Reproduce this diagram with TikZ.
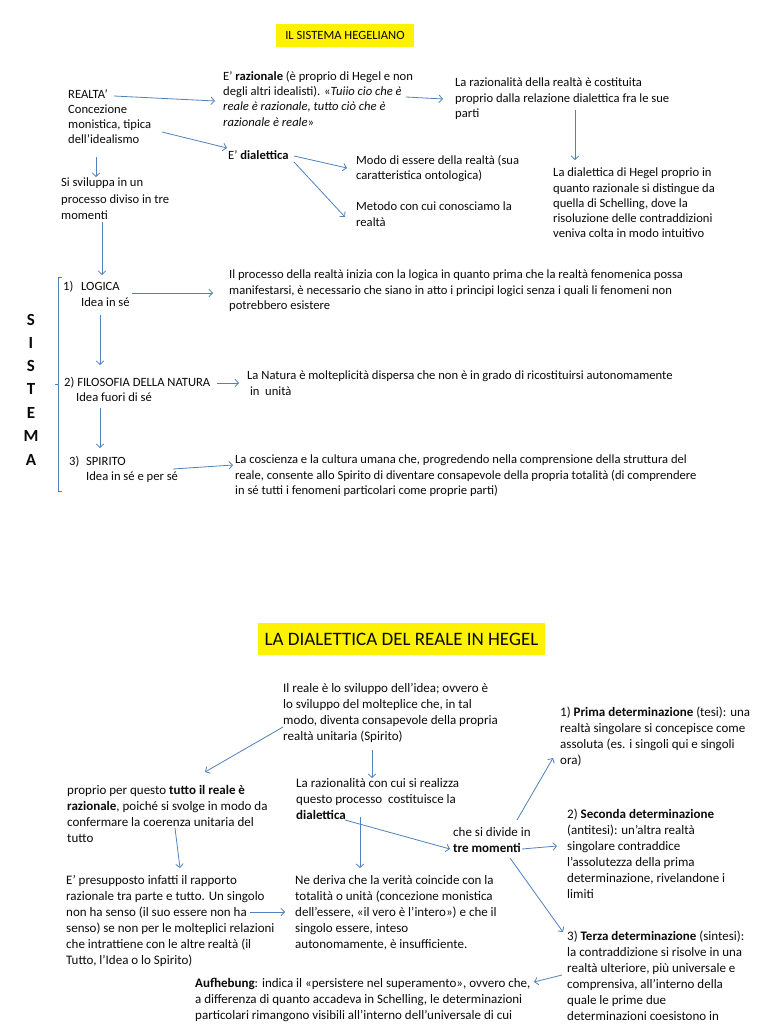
\documentclass[tikz,border=0pt]{standalone}
\usepackage{fontspec}
\setmainfont{Carlito}
\usetikzlibrary{arrows.meta}
\definecolor{arrblue}{RGB}{79,129,189}
\definecolor{txt}{RGB}{10,10,10}
\newcommand\fT{\fontsize{12.6}{15.2}\selectfont}
\newcommand\fB{\fontsize{13}{16}\selectfont}
\tikzset{
  tT/.style={anchor=north west, inner sep=0pt, align=left, font=\fT, text=txt, execute at begin node=\strut},
  tB/.style={anchor=north west, inner sep=0pt, align=left, font=\fB, text=txt, execute at begin node=\strut},
  arr/.style={draw=arrblue, line width=0.8pt, -{Straight Barb[length=3.5pt,width=7.5pt]}},
  ttl/.style={fill=yellow, inner sep=0pt, text=txt},
  letter/.style={font=\fontsize{17}{20}\selectfont\bfseries, text=txt, inner sep=0pt}
}
\begin{document}
\begin{tikzpicture}[x=1pt,y=-1pt]
\useasboundingbox[fill=white] (0,0) rectangle (768,1024);

% ---------- top: IL SISTEMA HEGELIANO ----------
\node[ttl, minimum width=138pt, minimum height=23pt, font=\fT] (title1) at (345,35.5) {IL SISTEMA HEGELIANO};

\node[tT] (realta) at (68,89) {REALTA’\\Concezione\\monistica, tipica\\dell’idealismo};
\node[tT] (razionale) at (223,71) {E’ \textbf{razionale} (è proprio di Hegel e non\\degli altri idealisti). «\textit{Tuiio cio che è}\\\textit{reale è razionale, tutto ciò che è}\\\textit{razionale è reale}»};
\node[tT] (razrel) at (455,78) {La razionalità della realtà è costituita\\proprio dalla relazione dialettica fra le sue\\parti};
\node[tT] (dialettica) at (228,149) {E’ \textbf{dialettica}};
\node[tT] (modo) at (356,155) {Modo di essere della realtà (sua\\caratteristica ontologica)};
\node[tT] (metodo) at (356,202) {Metodo con cui conosciamo la\\realtà};
\node[tT] (hegel) at (553,168) {La dialettica di Hegel proprio in\\quanto razionale si distingue da\\quella di Schelling, dove la\\risoluzione delle contraddizioni\\veniva colta in modo intuitivo};
\node[tT, font=\fontsize{12.6}{16.5}\selectfont] (sviluppa) at (61,178) {Si sviluppa in un\\processo diviso in tre\\momenti};

\coordinate (a1s) at (114,96);  \coordinate (a1e) at (215,101);
\coordinate (a2s) at (406,97);  \coordinate (a2e) at (443,99);
\coordinate (a3s) at (162,132); \coordinate (a3e) at (227,148);
\coordinate (a4s) at (294,156); \coordinate (a4e) at (347,168);
\coordinate (a5s) at (294,162); \coordinate (a5e) at (345,217);
\coordinate (a6s) at (575,110); \coordinate (a6e) at (575,160);
\coordinate (a7s) at (96,157);  \coordinate (a7e) at (96,177);
\coordinate (a8s) at (102,222); \coordinate (a8e) at (102,275);
\draw[arr] (a1s) -- (a1e);
\draw[arr] (a2s) -- (a2e);
\draw[arr] (a3s) -- (a3e);
\draw[arr] (a4s) -- (a4e);
\draw[arr] (a5s) -- (a5e);
\draw[arr] (a6s) -- (a6e);
\draw[arr] (a7s) -- (a7e);
\draw[arr] (a8s) -- (a8e);

% ---------- SISTEMA ----------
\foreach \l/\yy [count=\i] in {S/320,I/343,S/366,T/389,E/413,M/436,A/460}
  \node[letter] (sis\i) at (31,\yy) {\l};
\draw[arrblue, line width=0.8pt] (62,277) -- (58,277) -- (58,491) -- (62,491);
\draw[arrblue, line width=0.8pt] (55,384) -- (58,384);

\node[tT] (logica) at (63,280) {\makebox[18pt][l]{1)}LOGICA};
\node[tT] (logica2) at (81,296) {Idea in sé};
\node[tT] (filosofia) at (64,376) {2) FILOSOFIA DELLA NATURA};
\node[tT] (filosofia2) at (76,391) {Idea fuori di sé};
\node[tT] (spirito) at (69,455) {\makebox[17pt][l]{3)}SPIRITO};
\node[tT] (spirito2) at (86,470) {Idea in sé e per sé};

\node[tT] (processo) at (229,270) {Il processo della realtà inizia con la logica in quanto prima che la realtà fenomenica possa\\manifestarsi, è necessario che siano in atto i principi logici senza i quali li fenomeni non\\potrebbero esistere};
\node[tT] (natura) at (247,371) {La Natura è molteplicità dispersa che non è in grado di ricostituirsi autonomamente\\\ in\ \ unità};
\node[tT] (coscienza) at (235,455) {La coscienza e la cultura umana che, progredendo nella comprensione della struttura del\\reale, consente allo Spirito di diventare consapevole della propria totalità (di comprendere\\in sé tutti i fenomeni particolari come proprie parti)};

\coordinate (a9s) at (132,293);  \coordinate (a9e) at (213,293);
\coordinate (a10s) at (100,315); \coordinate (a10e) at (100,365);
\coordinate (a11s) at (217,383); \coordinate (a11e) at (239,383);
\coordinate (a12s) at (100,408); \coordinate (a12e) at (100,448);
\coordinate (a13s) at (173,469); \coordinate (a13e) at (233,465);
\draw[arr] (a9s) -- (a9e);
\draw[arr] (a10s) -- (a10e);
\draw[arr] (a11s) -- (a11e);
\draw[arr] (a12s) -- (a12e);
\draw[arr] (a13s) -- (a13e);

% ---------- bottom: LA DIALETTICA DEL REALE IN HEGEL ----------
\node[ttl, minimum width=287pt, minimum height=32pt, font=\fontsize{19}{22}\selectfont] (title2) at (401.5,639) {LA DIALETTICA DEL REALE IN HEGEL};

\node[tB] (reale) at (283,683) {Il reale è lo sviluppo dell’idea; ovvero è\\lo sviluppo del molteplice che, in tal\\modo, diventa consapevole della propria\\realtà unitaria (Spirito)};
\node[tB] (razproc) at (296,778) {La razionalità con cui si realizza\\questo processo\ \ costituisce la\\\textbf{dialettica}};
\node[tB] (proprio) at (67,785) {proprio per questo \textbf{tutto il reale è}\\\textbf{razionale}, poiché si svolge in modo da\\confermare la coerenza unitaria del\\tutto};
\node[tB] (presupposto) at (66,875) {E’ presupposto infatti il rapporto\\razionale tra parte e tutto. Un singolo\\non ha senso (il suo essere non ha\\senso) se non per le molteplici relazioni\\che intrattiene con le altre realtà (il\\Tutto, l’Idea o lo Spirito)};
\node[tB] (nederiva) at (295,875) {Ne deriva che la verità coincide con la\\totalità o unità (concezione monistica\\dell’essere, «il vero è l’intero») e che il\\singolo essere, inteso\\autonomamente, è insufficiente.};
\node[tB] (divide) at (453,827) {che si divide in\\\textbf{tre momenti}};
\node[tB] (prima) at (560,707) {1) \textbf{Prima determinazione} (tesi): una\\realtà singolare si concepisce come\\assoluta (es. i singoli qui e singoli\\ora)};
\node[tB] (seconda) at (567,809) {2) \textbf{Seconda determinazione}\\(antitesi): un’altra realtà\\singolare contraddice\\l’assolutezza della prima\\determinazione, rivelandone i\\limiti};
\node[tB] (terza) at (567,931) {3) \textbf{Terza determinazione} (sintesi):\\la contraddizione si risolve in una\\realtà ulteriore, più universale e\\comprensiva, all’interno della\\quale le prime due\\determinazioni coesistono in};
\node[tB] (aufhebung) at (195,978) {\textbf{Aufhebung}: indica il «persistere nel superamento», ovvero che,\\a differenza di quanto accadeva in Schelling, le determinazioni\\particolari rimangono visibili all’interno dell’universale di cui};

\coordinate (b1s) at (283,727);  \coordinate (b1e) at (205,772);
\coordinate (b2s) at (372,750);  \coordinate (b2e) at (372,778);
\coordinate (b3s) at (175,828);  \coordinate (b3e) at (180,868);
\coordinate (b4s) at (250,912);  \coordinate (b4e) at (285,912);
\coordinate (b5s) at (360,817);  \coordinate (b5e) at (360,868);
\coordinate (b6s) at (345,820);  \coordinate (b6e) at (450,849);
\coordinate (b7s) at (517,820);  \coordinate (b7e) at (553,758);
\coordinate (b8s) at (522,849);  \coordinate (b8e) at (557,846);
\coordinate (b9s) at (510,858);  \coordinate (b9e) at (563,932);
\coordinate (b10s) at (562,975); \coordinate (b10e) at (534,982);
\draw[arr] (b1s) -- (b1e);
\draw[arr] (b2s) -- (b2e);
\draw[arr] (b3s) -- (b3e);
\draw[arr] (b4s) -- (b4e);
\draw[arr] (b5s) -- (b5e);
\draw[arr] (b6s) -- (b6e);
\draw[arr] (b7s) -- (b7e);
\draw[arr] (b8s) -- (b8e);
\draw[arr] (b9s) -- (b9e);
\draw[arr] (b10s) -- (b10e);
\end{tikzpicture}
\end{document}
